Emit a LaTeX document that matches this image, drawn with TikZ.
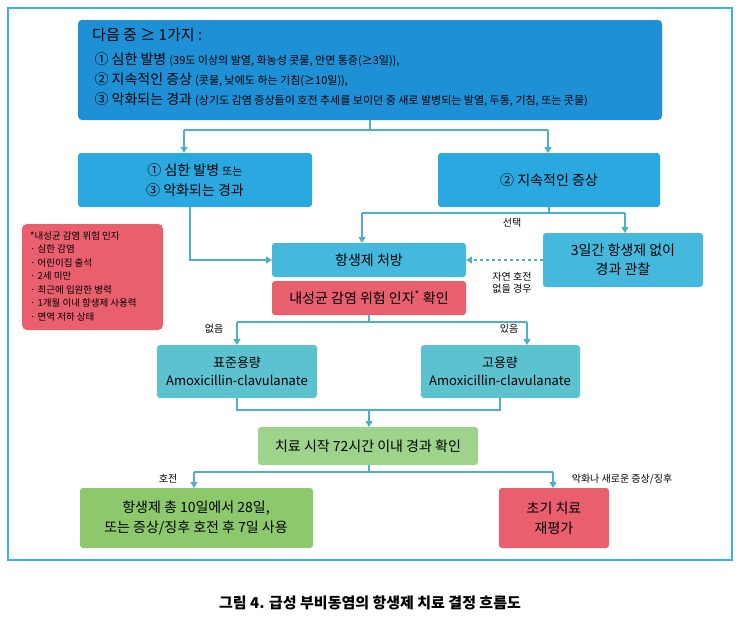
\documentclass[tikz,border=0pt]{standalone}
\usepackage{fontspec}
\setmainfont{Noto Sans CJK KR}
\usetikzlibrary{arrows.meta}
\definecolor{topblue}{HTML}{1E90D6}
\definecolor{midblue}{HTML}{2AA9E0}
\definecolor{liteblue}{HTML}{45B8DE}
\definecolor{riskred}{HTML}{E95F6E}
\definecolor{teal}{HTML}{5CC2D0}
\definecolor{green}{HTML}{8DC86C}
\definecolor{lightgreen}{HTML}{9DD38A}
\definecolor{arrowc}{HTML}{4FAFC8}
\definecolor{frame}{HTML}{36B5E5}
\newcommand{\smalltxt}[1]{{\fontsize{11}{13}\selectfont #1}}
\tikzset{
  box/.style={draw=none, rounded corners=3pt, align=center, inner sep=0pt},
  flow/.style={arrowc, line width=1.3pt, -{Triangle[length=6pt,width=7pt]}},
  line/.style={arrowc, line width=1.3pt},
  lbl/.style={font=\fontsize{10}{12}\selectfont}
}
\begin{document}
\begin{tikzpicture}[x=1pt,y=-1pt]
\useasboundingbox (0,0) rectangle (740,624);
\draw[frame, line width=1.5pt] (8,8) rectangle (732,560);
% boxes
\fill[topblue, rounded corners=4pt] (78,20) rectangle (662,120);
\node[anchor=north west, align=left, inner sep=0pt, font=\fontsize{14}{20}\selectfont] (top) at (92,28) {%
  {\fontsize{15}{18}\selectfont 다음 중 ≥ 1가지 :}\\[4pt]
  \,① 심한 발병 \smalltxt{(39도 이상의 발열, 화농성 콧물, 안면 통증(≥3일)),}\\
  \,② 지속적인 증상 \smalltxt{(콧물, 낮에도 하는 기침(≥10일)),}\\
  \,③ 악화되는 경과 \smalltxt{(상기도 감염 증상들이 호전 추세를 보이던 중 새로 발병되는 발열, 두통, 기침, 또는 콧물)}};
\coordinate (topb) at (370,120);
\fill[midblue, rounded corners=3pt] (78,153) rectangle (312,207);
\node[box, font=\fontsize{14}{20}\selectfont] (left) at (195,180) {① 심한 발병 \smalltxt{또는}\\③ 악화되는 경과};
\fill[midblue, rounded corners=3pt] (438,153) rectangle (660,207);
\node[box, font=\fontsize{14}{17}\selectfont] (right) at (549,180) {② 지속적인 증상};
\fill[riskred, rounded corners=5pt] (22,224) rectangle (163,330);
\node[anchor=north west, align=left, inner sep=0pt, font=\fontsize{9.5}{13.5}\selectfont] (risk) at (30,231) {%
  *내성균 감염 위험 인자\\ · 심한 감염\\ · 어린이집 출석\\ · 2세 미만\\ · 최근에 입원한 병력\\ · 1개월 이내 항생제 사용력\\ · 면역 저하 상태};
\fill[liteblue, rounded corners=3pt] (272,243) rectangle (466,277);
\node[box, font=\fontsize{14}{17}\selectfont] (abx) at (369,260) {항생제 처방};
\fill[riskred, rounded corners=3pt] (272,281) rectangle (466,315);
\node[box, font=\fontsize{14}{17}\selectfont] (check) at (369,298) {내성균 감염 위험 인자\textsuperscript{*} 확인};
\fill[liteblue, rounded corners=3pt] (543,233) rectangle (703,287);
\node[box, font=\fontsize{14}{19}\selectfont] (wait) at (623,260) {3일간 항생제 없이\\경과 관찰};
\fill[teal, rounded corners=3pt] (157,345) rectangle (317,398);
\node[box, font=\fontsize{13}{18}\selectfont] (std) at (237,371) {표준용량\\Amoxicillin-clavulanate};
\fill[teal, rounded corners=3pt] (421,345) rectangle (580,398);
\node[box, font=\fontsize{13}{18}\selectfont] (high) at (500,371) {고용량\\Amoxicillin-clavulanate};
\fill[lightgreen, rounded corners=3pt] (258,427) rectangle (478,465);
\node[box, font=\fontsize{14}{17}\selectfont] (eval) at (368,446) {치료 시작 72시간 이내 경과 확인};
\fill[green, rounded corners=3pt] (80,488) rectangle (313,548);
\node[box, font=\fontsize{14}{20}\selectfont] (done) at (196,518) {항생제 총 10일에서 28일,\\또는 증상/징후 호전 후 7일 사용};
\fill[riskred, rounded corners=3pt] (499,488) rectangle (609,548);
\node[box, font=\fontsize{14}{20}\selectfont] (reval) at (554,518) {초기 치료\\재평가};
% connectors
\draw[line] (topb) -- (370,130) -- (184,130);
\draw[line] (370,130) -- (548,130);
\draw[flow] (184,130) -- (184,153);
\draw[flow] (548,130) -- (548,153);
\draw[flow] (190,207) |- (272,260);
\draw[line] (549,207) -- (549,213) -- (362,213);
\draw[line] (549,213) -- (625,213);
\draw[flow] (362,213) -- (362,243);
\draw[flow] (625,213) -- (625,233);
\node[lbl] (sel) at (512,223) {선택};
\draw[flow, dashed] (543,260) -- (466,260);
\node[lbl, align=center] (nat) at (512,283) {자연 호전\\없을 경우};
\draw[line] (369,315) -- (369,322) -- (237,322);
\draw[line] (369,322) -- (527,322);
\draw[flow] (237,322) -- (237,345);
\draw[flow] (527,322) -- (527,345);
\node[lbl] (no) at (214,329) {없음};
\node[lbl] (yes) at (509,329) {있음};
\draw[line] (237,398) -- (237,410) -- (500,410) -- (500,398);
\draw[flow] (369,410) -- (369,427);
\draw[line] (369,465) -- (369,472) -- (194,472);
\draw[line] (369,472) -- (553,472);
\draw[flow] (194,472) -- (194,488);
\draw[flow] (553,472) -- (553,488);
\node[lbl] (better) at (168,479) {호전};
\node[lbl] (worse) at (622,479) {악화나 새로운 증상/징후};
% caption
\node[font=\bfseries\fontsize{15}{18}\selectfont] (cap) at (370,603) {그림 4. 급성 부비동염의 항생제 치료 결정 흐름도};
\end{tikzpicture}
\end{document}
